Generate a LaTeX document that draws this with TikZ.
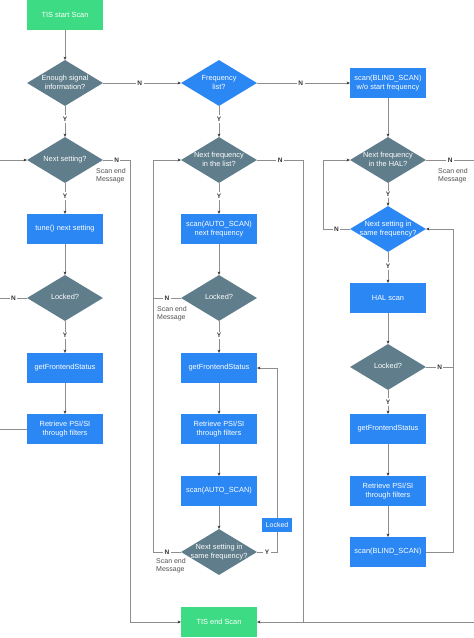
\documentclass[tikz,border=0pt]{standalone}
\usepackage{fontspec}
\setmainfont{Liberation Sans}
\usetikzlibrary{shapes.geometric,arrows.meta}
\definecolor{cgreen}{HTML}{3DDC84}
\definecolor{cblue}{HTML}{2B87F4}
\definecolor{cgrey}{HTML}{607D8B}
\definecolor{cline}{HTML}{8E8E8E}
\definecolor{clab}{HTML}{333333}
\newcommand{\dtxt}[1]{\makebox[0pt]{\begin{tabular}{@{}c@{}}#1\end{tabular}}}
\begin{document}
\begin{tikzpicture}[x=1pt,y=-1pt,
 box/.style={rectangle, fill=cblue, text=white, minimum width=76pt, minimum height=30pt, inner sep=0pt, align=center, font=\fontsize{7.4}{8.6}\selectfont},
 gbox/.style={box, fill=cgreen},
 dia/.style={diamond, fill=cgrey, text=white, minimum width=76pt, minimum height=46pt, inner sep=0pt, font=\fontsize{7.4}{8.6}\selectfont},
 bdia/.style={dia, fill=cblue},
 lab/.style={fill=white, text=clab, font=\bfseries\fontsize{6.5}{7}\selectfont, inner sep=1.5pt},
 note/.style={text=clab!85, font=\fontsize{7}{8.4}\selectfont, align=left, anchor=north west, inner sep=0pt},
 conn/.style={draw=cline, line width=0.9pt},
 arr/.style={conn, -{Stealth[length=3.2pt,width=3pt,color=clab]}},
]
\useasboundingbox[fill=white] (0,0) rectangle (474,638);

% column 1
\node[gbox] (start) at (65,15) {TIS start Scan};
\node[dia] (d1) at (65,83) {\dtxt{Enough signal\\information?}};
\node[dia] (d2) at (65,160) {\dtxt{Next setting?}};
\node[box] (b1) at (65,229) {tune() next setting};
\node[dia] (d3) at (65,298) {\dtxt{Locked?}};
\node[box] (b2) at (65,368) {getFrontendStatus};
\node[box] (b3) at (65,429) {Retrieve PSI/SI\\through filters};

% column 2
\node[bdia] (d4) at (219,83) {\dtxt{Frequency\\list?}};
\node[dia] (d5) at (219,160) {\dtxt{Next frequency\\in the list?}};
\node[box] (b4) at (219,229) {scan(AUTO\_SCAN)\\next frequency};
\node[dia] (d6) at (219,298) {\dtxt{Locked?}};
\node[box] (b5) at (219,368) {getFrontendStatus};
\node[box] (b6) at (219,429) {Retrieve PSI/SI\\through filters};
\node[box] (b7) at (219,491) {scan(AUTO\_SCAN)};
\node[dia] (d7) at (219,552) {\dtxt{Next setting in\\same frequency?}};
\node[gbox] (endn) at (219,622) {TIS end Scan};

% column 3
\node[box] (b8) at (388,83) {scan(BLIND\_SCAN)\\w/o start frequency};
\node[dia] (d8) at (388,160) {\dtxt{Next frequency\\in the HAL?}};
\node[bdia] (d9) at (388,229) {\dtxt{Next setting in\\same frequency?}};
\node[box] (b9) at (388,298) {HAL scan};
\node[dia] (d10) at (388,367) {\dtxt{Locked?}};
\node[box] (b10) at (388,429) {getFrontendStatus};
\node[box] (b11) at (388,491) {Retrieve PSI/SI\\through filters};
\node[box] (b12) at (388,552) {scan(BLIND\_SCAN)};

% coordinates
\coordinate (inL) at (0,160);
\coordinate (c1a) at (130,160);
\coordinate (c1b) at (130,622);
\coordinate (outL1) at (0,298);
\coordinate (outL2) at (0,429);
\coordinate (c2a) at (303,160);
\coordinate (c2b) at (303,622);
\coordinate (inR) at (474,622);
\coordinate (c2l) at (153,298);
\coordinate (c2m) at (153,552);
\coordinate (c2n) at (153,160);
\coordinate (c2y) at (277,552);
\coordinate (c2z) at (277,368);
\coordinate (outR) at (474,160);
\coordinate (c3a) at (323,229);
\coordinate (c3b) at (323,160);
\coordinate (c3r) at (453,367);
\coordinate (c3s) at (453,552);
\coordinate (c3t) at (453,229);

% column 1 connectors
\draw[arr] (start) -- (d1);
\draw[arr] (d1) -- node[lab,pos=0.42]{Y} (d2);
\draw[arr] (d1) -- node[lab,pos=0.47]{N} (d4);
\draw[arr] (inL) -- (d2);
\draw[arr] (d2) -- node[lab,pos=0.42]{Y} (b1);
\draw[arr] (d2.east) -- node[lab]{N} (c1a) -- (c1b) -- (endn.west);
\draw[arr] (b1) -- (d3);
\draw[conn] (d3.west) -- node[lab]{N} (outL1);
\draw[arr] (d3) -- node[lab,pos=0.45]{Y} (b2);
\draw[arr] (b2) -- (b3);
\draw[conn] (b3.west) -- (outL2);

% column 2 connectors
\draw[arr] (d4) -- node[lab,pos=0.42]{Y} (d5);
\draw[arr] (d4.east) -- node[lab,pos=0.47]{N} (b8.west);
\draw[arr] (d5) -- node[lab,pos=0.42]{Y} (b4);
\draw[conn] (d5.east) -- node[lab]{N} (c2a) -- (c2b);
\draw[arr] (inR) -- (endn.east);
\draw[arr] (b4) -- (d6);
\draw[conn] (d6.west) -- node[lab]{N} (c2l);
\draw[arr] (d6) -- node[lab,pos=0.45]{Y} (b5);
\draw[arr] (b5) -- (b6);
\draw[arr] (b6) -- (b7);
\draw[arr] (b7) -- (d7);
\draw[arr] (d7.west) -- node[lab]{N} (c2m) -- (c2n) -- (d5.west);
\draw[arr] (d7.east) -- node[lab]{Y} (c2y) -- (c2z) -- (b5.east);
\node[box, minimum width=30pt, minimum height=14pt, font=\fontsize{7}{8}\selectfont] (lk) at (277,525) {Locked};

% column 3 connectors
\draw[arr] (b8) -- (d8);
\draw[conn] (d8.east) -- node[lab]{N} (outR);
\draw[arr] (d8) -- node[lab]{Y} (d9);
\draw[arr] (d9.west) -- node[lab]{N} (c3a) -- (c3b) -- (d8.west);
\draw[arr] (d9) -- node[lab,pos=0.45]{Y} (b9);
\draw[arr] (b9) -- (d10);
\draw[conn] (d10.east) -- node[lab]{N} (c3r);
\draw[arr] (d10) -- node[lab]{Y} (b10);
\draw[arr] (b10) -- (b11);
\draw[arr] (b11) -- (b12);
\draw[arr] (b12.east) -- (c3s) -- (c3t) -- (d9.east);

% notes
\node[note] (n1) at (96,168) {Scan end\\Message};
\node[note] (n2) at (157,306) {Scan end\\Message};
\node[note] (n3) at (156,558) {Scan end\\Message};
\node[note] (n4) at (438,168) {Scan end\\Message};
\end{tikzpicture}
\end{document}
